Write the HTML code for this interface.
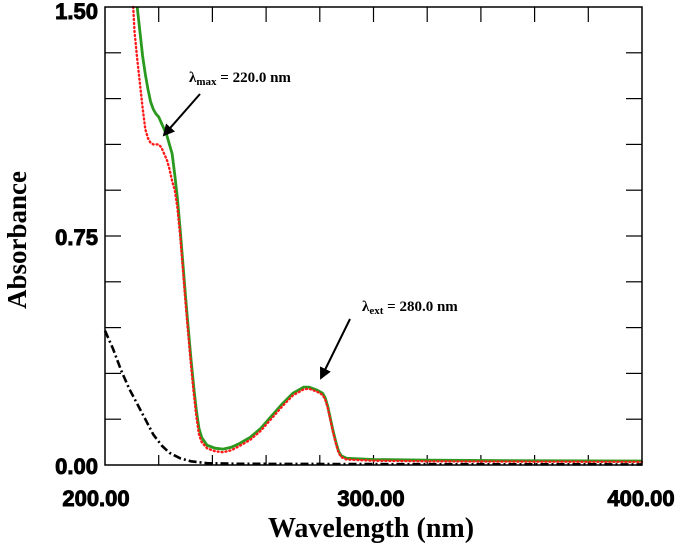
<!DOCTYPE html>
<html><head><meta charset="utf-8"><style>
html,body{margin:0;padding:0;background:#fff;}
svg{display:block;}
.tk{font-family:"Liberation Sans",sans-serif;font-weight:bold;font-size:22px;fill:#000;stroke:#000;stroke-width:0.9;}
.ti{font-family:"Liberation Serif",serif;font-weight:bold;fill:#000;}
.an{font-family:"Liberation Serif",serif;font-weight:bold;font-size:15px;fill:#000;}
</style></head><body>
<svg id="chart" width="685" height="548" viewBox="0 0 685 548" xmlns="http://www.w3.org/2000/svg">
<defs><marker id="ah" markerWidth="12" markerHeight="12" refX="10" refY="6" orient="auto" markerUnits="userSpaceOnUse"><path d="M0,0 L12,6 L0,12 z" fill="#000"/></marker></defs>
<g id="grid"></g>
<g id="series"></g>
<rect x="105" y="7" width="537" height="458" fill="none" stroke="#000" stroke-width="1.5"/>
<text class="tk" x="98" y="19" text-anchor="end">1.50</text>
<text class="tk" x="98" y="245" text-anchor="end">0.75</text>
<text class="tk" x="98" y="474" text-anchor="end">0.00</text>
<text class="tk" x="96" y="506" text-anchor="middle">200.00</text>
<text class="tk" x="371" y="506" text-anchor="middle">300.00</text>
<text class="tk" x="641" y="506" text-anchor="middle">400.00</text>
<text class="ti" x="371" y="537" text-anchor="middle" font-size="28">Wavelength (nm)</text>
<text class="ti" transform="translate(26,240) rotate(-90)" text-anchor="middle" font-size="27">Absorbance</text>
<text class="an" x="189" y="82">λ<tspan font-size="11" dy="3">max</tspan><tspan dy="-3"> = 220.0 nm</tspan></text>
<line x1="200" y1="94" x2="164" y2="135" stroke="#000" stroke-width="2" marker-end="url(#ah)"/>
<text class="an" x="362" y="311">λ<tspan font-size="11" dy="3">ext</tspan><tspan dy="-3"> = 280.0 nm</tspan></text>
<line x1="350" y1="319" x2="321" y2="378" stroke="#000" stroke-width="2" marker-end="url(#ah)"/>
</svg>
<script>
const greenX=[212,213,214,215,216,217,218,219,220,221,222,223,224,225,226,227,228,229,230,231,232,233,234,235,236,238,241,244,247,250,254,258,262,266,270,274,276,279,281,282,283,284,285,286,287,288,290,300,320,350,400];
const greenY=[1.5,1.42,1.34,1.28,1.23,1.19,1.165,1.15,1.14,1.12,1.1,1.08,1.05,1.02,0.95,0.87,0.77,0.66,0.55,0.45,0.35,0.26,0.18,0.12,0.09,0.065,0.055,0.052,0.058,0.07,0.09,0.12,0.16,0.2,0.235,0.255,0.255,0.245,0.235,0.22,0.19,0.15,0.11,0.075,0.045,0.03,0.022,0.018,0.016,0.014,0.013];
const redX=[210.5,211,212,213,214,215,216,217,218,219,220,221,222,223,224,225,226,227,228,229,230,231,232,233,234,235,236,238,241,244,247,250,254,258,262,266,270,274,276,279,281,282,283,284,285,286,287,288,290,300,320,350,400];
const redY=[1.5,1.42,1.33,1.25,1.17,1.1,1.07,1.055,1.05,1.05,1.05,1.04,1.02,1.0,0.97,0.93,0.9,0.84,0.75,0.64,0.53,0.43,0.33,0.24,0.16,0.1,0.075,0.055,0.045,0.042,0.048,0.062,0.082,0.112,0.152,0.192,0.228,0.248,0.25,0.24,0.23,0.215,0.185,0.145,0.105,0.07,0.04,0.026,0.018,0.014,0.012,0.011,0.01];
const blankX=[200,203,206,209,212,215,218,221,224,228,232,238,250,300,400];
const blankY=[0.44,0.38,0.31,0.25,0.2,0.15,0.1,0.065,0.04,0.022,0.012,0.006,0.004,0.003,0.002];
const xTicks=[220,240,260,280,300,320,340,360,380];
const yTicks=[0.15,0.3,0.45,0.6,0.75,0.9,1.05,1.2,1.35];
const X0=105,X1=642,Y0=465,Y1=7;
function sx(v){return X0+(v-200)/200*(X1-X0);}
function sy(v){return Y0-(v/1.5)*(Y0-Y1);}
const NS="http://www.w3.org/2000/svg";
const grid=document.getElementById('grid'),ser=document.getElementById('series');
function ln(x1,y1,x2,y2){const l=document.createElementNS(NS,'line');l.setAttribute('x1',x1);l.setAttribute('y1',y1);l.setAttribute('x2',x2);l.setAttribute('y2',y2);l.setAttribute('stroke','#000');l.setAttribute('stroke-width','1.2');grid.appendChild(l);return l;}
xTicks.forEach(t=>{
 const a=ln(sx(t),Y0,sx(t),Y0-10);
 
 
 const b=ln(sx(t),Y1,sx(t),Y1+15);
 
 
});
yTicks.forEach(t=>{
 const a=ln(X0,sy(t),X0+16,sy(t));
 
 
 const b=ln(X1,sy(t),X1-16,sy(t));
 
 
});
function path(xs,ys,color,w,dash,name){
 const p=document.createElementNS(NS,'path');
 let d='';
 xs.forEach((x,i)=>{d+=(i?'L':'M')+sx(x).toFixed(1)+','+Math.max(sy(ys[i]),Y1).toFixed(1);});
 p.setAttribute('d',d);p.setAttribute('fill','none');p.setAttribute('stroke',color);p.setAttribute('stroke-width',w);
 if(dash)p.setAttribute('stroke-dasharray',dash);
 p.setAttribute('stroke-linecap',dash==='1 3'?'round':'butt');
 
 
 ser.appendChild(p);
}
path(blankX,blankY,'#000',2.6,'8 3 2 3','blank-series-line');
path(greenX,greenY,'#2a9a1e',2.8,null,'sample-series-line');
path(redX,redY,'#ff1a1a',2.4,'1 3','reference-series-line');
</script>
</body></html>
